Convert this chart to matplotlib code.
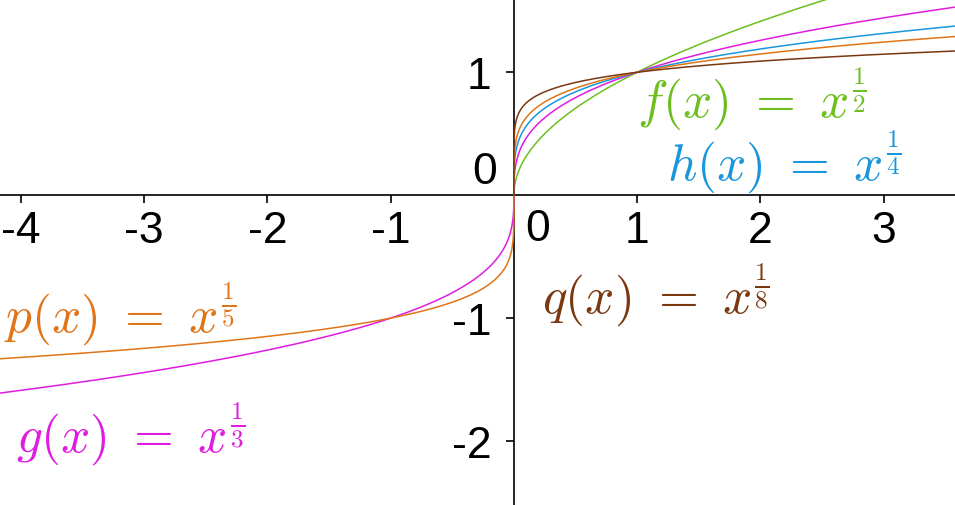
import numpy as np
import matplotlib
matplotlib.use("Agg")
import matplotlib.pyplot as plt

# root functions x^(1/n)
names = ["f", "g", "h", "p", "q"]
denoms = [2, 3, 4, 5, 8]
colors = ["#6cbf1e", "#e01ce0", "#1a96dc", "#e07418", "#7a3810"]

x_ticks = [-4, -3, -2, -1, 1, 2, 3]
y_ticks = [-2, -1, 1]

# label anchor (left, baseline) in data units
label_pos = {
    "f": (1.00, 0.64),
    "g": (-4.04, -2.08),
    "h": (1.24, 0.13),
    "p": (-4.14, -1.11),
    "q": (0.23, -0.95),
}

plt.rcParams["font.family"] = ["Liberation Sans", "DejaVu Sans"]
plt.rcParams["mathtext.fontset"] = "cm"

fig = plt.figure(figsize=(9.55, 5.06), dpi=100)
ax = fig.add_axes([0, 0, 1, 1])
ax.set_xlim(-4.17, 3.58)
ax.set_ylim(-2.52, 1.596)

xpos = np.concatenate([np.geomspace(1e-7, 0.01, 400), np.linspace(0.01, 4.3, 700)[1:]])
for name, n, c in zip(names, denoms, colors):
    e = 1.0 / n
    if n % 2 == 1:
        xs = np.concatenate([-xpos[::-1], [0.0], xpos])
    else:
        xs = np.concatenate([[0.0], xpos])
    ys = np.sign(xs) * np.abs(xs) ** e
    ax.plot(xs, ys, color=c, lw=1.1, zorder=3)
    lx, ly = label_pos[name]
    ax.text(lx, ly, r"$%s(x)\ =\ x^{\frac{1}{%d}}$" % (name, n),
            color=c, fontsize=37, ha="left", va="baseline", zorder=4)

for s in ["top", "right"]:
    ax.spines[s].set_visible(False)
ax.spines["left"].set_position("zero")
ax.spines["bottom"].set_position("zero")
for s in ["left", "bottom"]:
    ax.spines[s].set_linewidth(1.2)
    ax.spines[s].set_zorder(2)

ax.set_xticks(x_ticks)
ax.set_xticklabels([str(t) for t in x_ticks])
ax.set_yticks(y_ticks)
ax.set_yticklabels([str(t) for t in y_ticks])
ax.tick_params(axis="x", direction="out", length=6, width=1.2, labelsize=32, pad=5)
ax.tick_params(axis="y", direction="out", length=6, width=1.2, labelsize=32, pad=10)

# the two zero labels sit off the axes
ax.text(0.19, -0.27, "0", fontsize=32, ha="center", va="center")
ax.text(-0.24, 0.19, "0", fontsize=32, ha="center", va="center")

fig.savefig("out.png", dpi=100, facecolor="white")
